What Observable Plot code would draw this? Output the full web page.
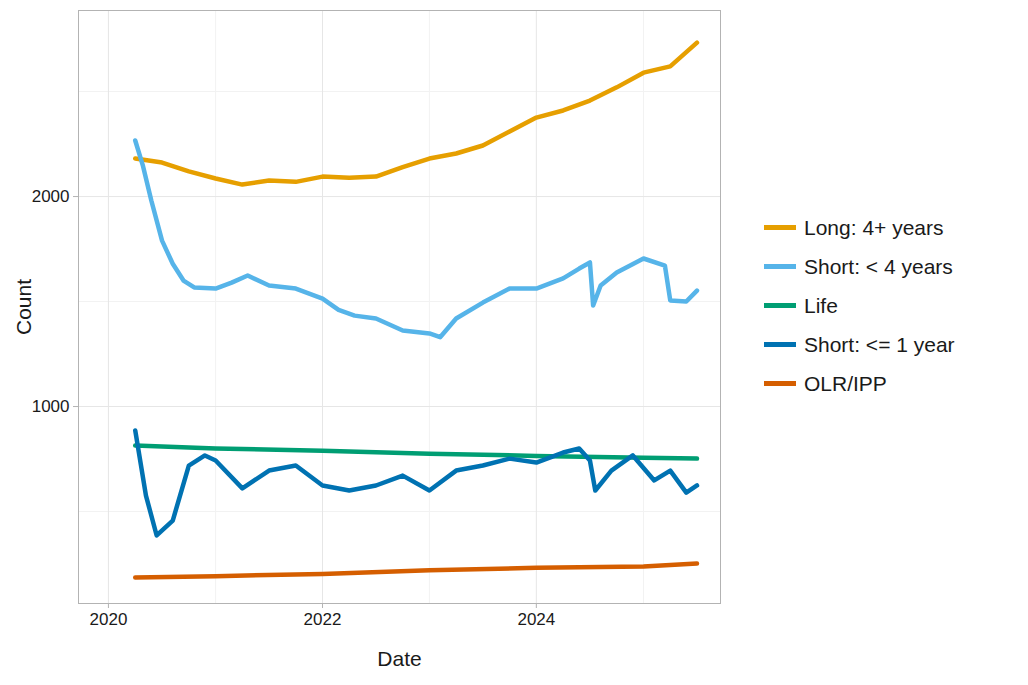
<!DOCTYPE html>
<html><head><meta charset="utf-8">
<script src="https://cdn.jsdelivr.net/npm/d3@7"></script>
<script src="https://cdn.jsdelivr.net/npm/@observablehq/plot@0.6"></script>
<style>
body{margin:0;background:#fff;font-family:"Liberation Sans",Arial,sans-serif;}
#wrap{position:relative;width:1028px;height:685px;}
#legend{position:absolute;left:764px;top:208px;font-size:21px;color:#1a1a1a;}
.item{display:flex;align-items:center;height:39px;}
.sw{width:32px;height:5px;margin-right:8px;}
</style></head><body><div id="wrap"><div id="chart"></div><div id="legend"></div></div>
<script>
const seriesNames = ["Long: 4+ years","Short: < 4 years","Life","Short: <= 1 year","OLR/IPP"];
const colors = ["#E69F00","#56B4E9","#009E73","#0072B2","#D55E00"];
const longT = [2020.25,2020.5,2020.75,2021,2021.25,2021.5,2021.75,2022,2022.25,2022.5,2022.75,2023,2023.25,2023.5,2023.75,2024,2024.25,2024.5,2024.75,2025,2025.25,2025.5];
const longV = [2181,2162,2120,2086,2057,2076,2070,2095,2090,2095,2140,2181,2205,2243,2310,2376,2410,2457,2520,2590,2620,2733];
const shortT = [2020.25,2020.32,2020.4,2020.5,2020.6,2020.7,2020.8,2021,2021.15,2021.3,2021.5,2021.75,2022,2022.15,2022.3,2022.5,2022.75,2023,2023.1,2023.25,2023.5,2023.75,2024,2024.25,2024.4,2024.5,2024.53,2024.6,2024.75,2025,2025.2,2025.25,2025.4,2025.5];
const shortV = [2267,2150,1981,1790,1680,1600,1567,1562,1590,1624,1576,1562,1514,1460,1433,1419,1362,1348,1330,1419,1495,1562,1562,1610,1657,1686,1481,1576,1638,1705,1671,1505,1500,1552];
const lifeT = [2020.25,2021,2022,2023,2024,2025,2025.5];
const lifeV = [814,800,790,775,765,756,752];
const s1T = [2020.25,2020.35,2020.45,2020.6,2020.75,2020.9,2021,2021.25,2021.5,2021.75,2022,2022.25,2022.5,2022.75,2023,2023.25,2023.5,2023.75,2024,2024.25,2024.4,2024.5,2024.55,2024.7,2024.9,2025.1,2025.25,2025.4,2025.5];
const s1V = [886,576,386,457,719,767,743,610,695,719,624,600,624,671,600,695,719,752,733,781,800,743,600,695,767,648,695,590,624];
const olrT = [2020.25,2021,2022,2023,2024,2025,2025.5];
const olrV = [186,192,203,220,232,238,252];

function toDate(t){const y=Math.floor(t);const s=new Date(Date.UTC(y,0,1)),e=new Date(Date.UTC(y+1,0,1));return new Date(+s+(t-y)*(e-s));}
const data=[];
[[longT,longV],[shortT,shortV],[lifeT,lifeV],[s1T,s1V],[olrT,olrV]].forEach(([T,V],i)=>T.forEach((t,j)=>data.push({date:toDate(t),value:V[j],series:seriesNames[i]})));

const xMajor=[2020,2022,2024].map(y=>new Date(Date.UTC(y,0,1)));
const xMinor=[2021,2023,2025].map(y=>new Date(Date.UTC(y,0,1)));
const plot=Plot.plot({
  width:728,height:685,marginLeft:78,marginRight:8,marginTop:10,marginBottom:82,
  style:{fontFamily:"Liberation Sans, Arial, sans-serif",fontSize:"17px",color:"#1a1a1a"},
  x:{type:"utc",domain:[toDate(2019.72),toDate(2025.72)],ticks:xMajor,tickFormat:d3.utcFormat("%Y"),label:"Date",labelArrow:"none",labelAnchor:"center",labelOffset:62,tickSize:5,tickPadding:4},
  y:{domain:[62,2886],ticks:[1000,2000],tickFormat:d=>String(d),label:"Count",labelArrow:"none",labelAnchor:"center",labelOffset:62,tickSize:5,tickPadding:4},
  color:{domain:seriesNames,range:colors},
  marks:[
    Plot.ruleX(xMinor,{stroke:"#f2f2f2"}),
    Plot.ruleY([500,1500,2500],{stroke:"#f2f2f2"}),
    Plot.ruleX(xMajor,{stroke:"#e6e6e6"}),
    Plot.ruleY([1000,2000],{stroke:"#e6e6e6"}),
    Plot.frame({stroke:"#b3b3b3"}),
    Plot.lineY(data,{x:"date",y:"value",stroke:"series",strokeWidth:4.5,z:"series"})
  ]
});
plot.querySelectorAll('[aria-label="x-axis label"] text, [aria-label="y-axis label"] text').forEach(t=>t.setAttribute("font-size","21"));
plot.querySelectorAll('[aria-label$="tick"]').forEach(g=>g.setAttribute("stroke","#b3b3b3"));
document.getElementById("chart").appendChild(plot);
const lg=document.getElementById("legend");
seriesNames.forEach((n,i)=>{lg.innerHTML+=`<div class="item"><div class="sw" style="background:${colors[i]}"></div><span>${n}</span></div>`;});
</script></body></html>
